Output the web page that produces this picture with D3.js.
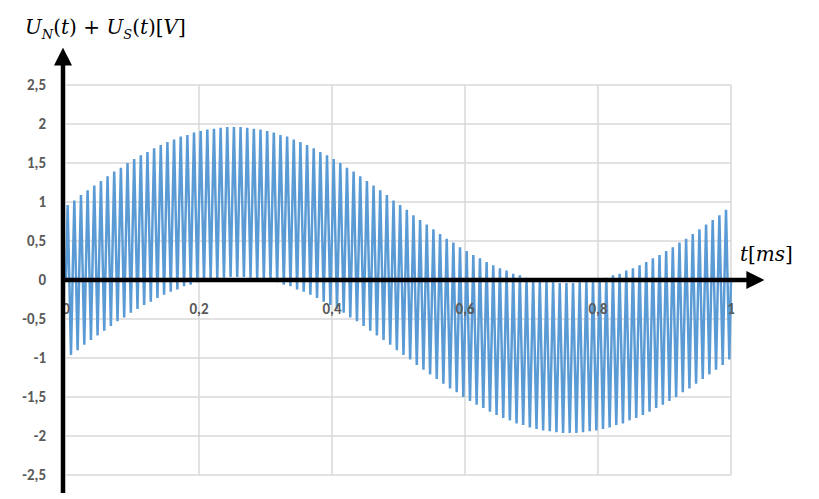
<!DOCTYPE html>
<html><head><meta charset="utf-8">
<script src="https://cdn.jsdelivr.net/npm/d3@7"></script>
<style>body{margin:0;background:#fff}</style>
</head><body><div id="chart"></div>
<script>
// slow 1 kHz envelope read per carrier cycle (100 cycles in 1 ms)
var envelope = [0,.06,.13,.19,.25,.31,.37,.43,.48,.54,.59,.64,.68,.73,.77,.81,.84,.88,.90,.93,.95,.97,.98,.99,1,1,1,.99,.98,.97,.95,.93,.90,.88,.84,.81,.77,.73,.68,.64,.59,.54,.48,.43,.37,.31,.25,.19,.13,.06,
 0,-.06,-.13,-.19,-.25,-.31,-.37,-.43,-.48,-.54,-.59,-.64,-.68,-.73,-.77,-.81,-.84,-.88,-.90,-.93,-.95,-.97,-.98,-.99,-1,-1,-1,-.99,-.98,-.97,-.95,-.93,-.90,-.88,-.84,-.81,-.77,-.73,-.68,-.64,-.59,-.54,-.48,-.43,-.37,-.31,-.25,-.19,-.13,-.06];
var carrierAmp = 0.96;
var yTicks = [-2.5,-2,-1.5,-1,-0.5,0,0.5,1,1.5,2,2.5];
var xTicks = [0,0.2,0.4,0.6,0.8,1];

var width = 819, height = 499;
var x = d3.scaleLinear().domain([0,1]).range([66,731]);
var y = d3.scaleLinear().domain([-2.5,2.5]).range([475,85]);

var svg = d3.select("#chart").append("svg").attr("width",width).attr("height",height);

svg.append("g").selectAll("line").data(yTicks).enter().append("line")
  .attr("x1",66).attr("x2",731).attr("y1",d=>y(d)).attr("y2",d=>y(d))
  .attr("stroke","#d9d9d9").attr("stroke-width",1.5);
svg.append("g").selectAll("line").data(xTicks.slice(1)).enter().append("line")
  .attr("x1",d=>x(d)).attr("x2",d=>x(d)).attr("y1",y(2.5)).attr("y2",y(-2.5))
  .attr("stroke","#d9d9d9").attr("stroke-width",1.5);

var pts = [];
envelope.forEach(function(e,k){
  var t = k/100;
  pts.push([t,e],[t+0.0025,e+carrierAmp],[t+0.005,e],[t+0.0075,e-carrierAmp]);
});
pts.push([1,0]);
svg.append("path").datum(pts)
  .attr("d",d3.line().x(d=>x(d[0])).y(d=>y(d[1])))
  .attr("fill","none").attr("stroke","#5b9bd5").attr("stroke-width",2.5);

svg.append("g").selectAll("text").data(yTicks).enter().append("text")
  .attr("x",46).attr("y",d=>y(d)+5).attr("text-anchor","end")
  .attr("font-family","Calibri, Carlito, 'Liberation Sans', sans-serif").attr("font-weight","bold")
  .attr("font-size",15).attr("fill","#595959").text(d=>String(d).replace(".",","));
svg.append("g").selectAll("text").data(xTicks).enter().append("text")
  .attr("x",d=>x(d)).attr("y",y(0)+34).attr("text-anchor","middle")
  .attr("font-family","Calibri, Carlito, 'Liberation Sans', sans-serif").attr("font-weight","bold")
  .attr("font-size",15).attr("fill","#595959").text(d=>String(d).replace(".",","));

// axes with arrows
svg.append("defs").append("marker").attr("id","ar").attr("viewBox","0 0 10 10")
  .attr("refX",2).attr("refY",5).attr("markerWidth",4).attr("markerHeight",4).attr("orient","auto")
  .append("path").attr("d","M0,0L10,5L0,10z").attr("fill","#000");
svg.append("line").attr("x1",63).attr("x2",63).attr("y1",493).attr("y2",62)
  .attr("stroke","#000").attr("stroke-width",4.5).attr("marker-end","url(#ar)");
svg.append("line").attr("x1",61).attr("x2",750).attr("y1",y(0)).attr("y2",y(0))
  .attr("stroke","#000").attr("stroke-width",4.5).attr("marker-end","url(#ar)");

var t1 = svg.append("text").attr("x",25).attr("y",34)
  .attr("font-family","'DejaVu Serif', 'Liberation Serif', serif").attr("font-size",20).attr("font-style","italic");
t1.append("tspan").text("U");
t1.append("tspan").attr("font-size",13).attr("dy",5).text("N");
t1.append("tspan").attr("dy",-5).attr("font-style","normal").text("(");
t1.append("tspan").text("t");
t1.append("tspan").attr("font-style","normal").text(") + ");
t1.append("tspan").text("U");
t1.append("tspan").attr("font-size",13).attr("dy",5).text("S");
t1.append("tspan").attr("dy",-5).attr("font-style","normal").text("(");
t1.append("tspan").text("t");
t1.append("tspan").attr("font-style","normal").text(")[");
t1.append("tspan").text("V");
t1.append("tspan").attr("font-style","normal").text("]");

var t2 = svg.append("text").attr("x",740).attr("y",261)
  .attr("font-family","'DejaVu Serif', 'Liberation Serif', serif").attr("font-size",20).attr("font-style","italic");
t2.append("tspan").text("t");
t2.append("tspan").attr("font-style","normal").text("[");
t2.append("tspan").text("ms");
t2.append("tspan").attr("font-style","normal").text("]");
</script></body></html>
